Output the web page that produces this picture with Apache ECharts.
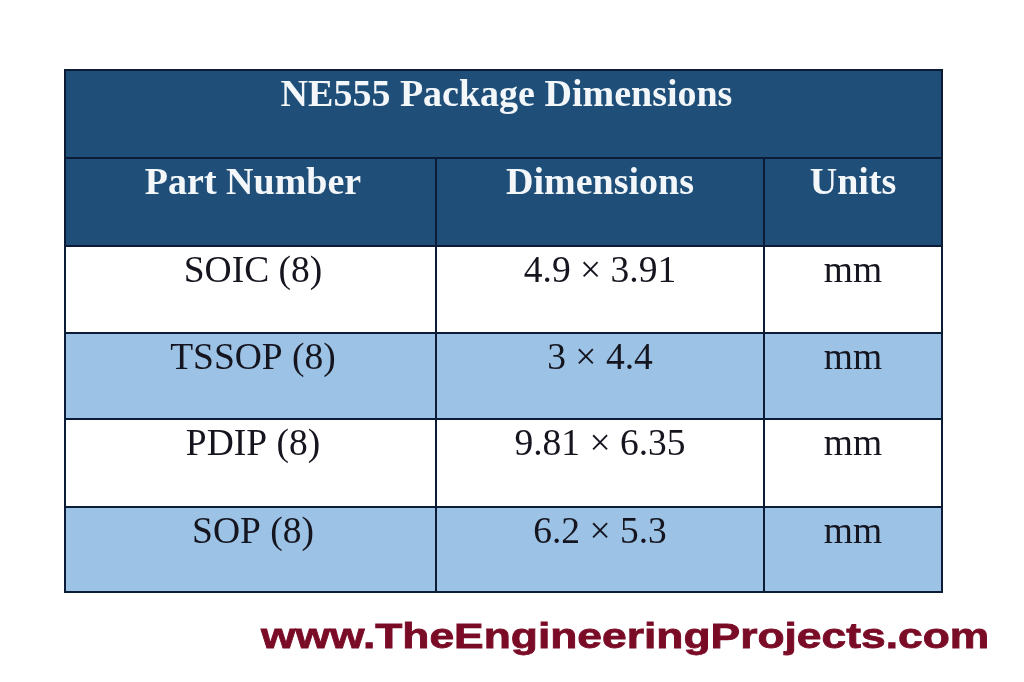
<!DOCTYPE html>
<html>
<head>
<meta charset="utf-8">
<title>NE555 Package Dimensions</title>
<style>
  html, body { margin: 0; padding: 0; background: #fff; }
  #chart { width: 1024px; height: 682px; }
</style>
<script src="https://cdn.jsdelivr.net/npm/echarts@6/dist/echarts.min.js"></script>
</head>
<body>
<div id="chart"></div>
<script>
var tableTitle = 'NE555 Package Dimensions';
var headers = ['Part Number', 'Dimensions', 'Units'];
var partNumbers = ['SOIC (8)', 'TSSOP (8)', 'PDIP (8)', 'SOP (8)'];
var dimensions = ['4.9 × 3.91', '3 × 4.4', '9.81 × 6.35', '6.2 × 5.3'];
var units = ['mm', 'mm', 'mm', 'mm'];
var watermark = 'www.TheEngineeringProjects.com';

// table grid lines, the axes run in picture pixels
var colEdges = [65, 436, 764, 942];
var rowEdges = [70, 158, 246, 333, 419, 507, 592];

var dark = '#1f4e79', light = '#9cc2e5', line = '#0c1b36';

var cells = [];
var addCell = function(c0, c1, r, text, kind, nudge) {
  cells.push([colEdges[c0], colEdges[c1], rowEdges[r], rowEdges[r + 1], text, kind, nudge]);
};

addCell(0, 3, 0, tableTitle, 'head', 3);
headers.forEach(function(h, i) {
  addCell(i, i + 1, 1, h, 'head', i ? 0 : 2.5);
});
partNumbers.forEach(function(p, i) {
  var kind = i % 2 ? 'alt' : 'plain';
  addCell(0, 1, i + 2, p, kind, 2.5);
  addCell(1, 2, i + 2, dimensions[i], kind, 0);
  addCell(2, 3, i + 2, units[i], kind, 0);
});

var renderCell = function(params, api) {
  var tl = api.coord([api.value(0), api.value(2)]);
  var br = api.coord([api.value(1), api.value(3)]);
  var cell = cells[params.dataIndex];
  var isHead = cell[5] === 'head';
  return {
    type: 'group',
    children: [{
      type: 'rect',
      shape: { x: tl[0], y: tl[1], width: br[0] - tl[0], height: br[1] - tl[1] },
      style: {
        fill: isHead ? dark : (cell[5] === 'alt' ? light : '#fff'),
        stroke: line,
        lineWidth: 2
      }
    }, {
      type: 'text',
      x: (tl[0] + br[0]) / 2 + cell[6],
      y: tl[1] + 26,
      style: {
        text: cell[4],
        fill: isHead ? '#f3f7fa' : '#15151f',
        font: (isHead ? 'bold 38px' : '37.5px') + ' "Liberation Serif"',
        textAlign: 'center',
        textVerticalAlign: 'middle'
      }
    }]
  };
};

var chart = echarts.init(document.getElementById('chart'));
chart.setOption({
  animation: false,
  backgroundColor: '#fff',
  graphic: [{
    type: 'text',
    x: 261,
    y: 638,
    scaleX: 1.25,
    style: {
      text: watermark,
      fill: '#7a0b26',
      stroke: '#7a0b26',
      lineWidth: 0.8,
      font: 'bold 35.5px "Liberation Sans"',
      textVerticalAlign: 'middle'
    }
  }],
  grid: { left: 65, top: 70, right: 82, bottom: 90 },
  xAxis: { type: 'value', min: 65, max: 942, show: false },
  yAxis: { type: 'value', min: 70, max: 592, inverse: true, show: false },
  series: [{
    type: 'custom',
    renderItem: renderCell,
    data: cells.map(function(c) { return c.slice(0, 4); }),
    clip: false,
    silent: true
  }]
});
</script>
</body>
</html>
